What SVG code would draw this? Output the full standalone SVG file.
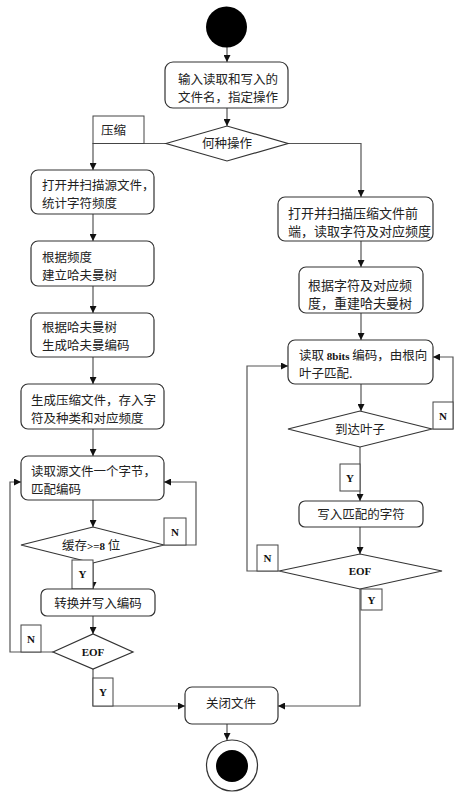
<svg xmlns="http://www.w3.org/2000/svg" width="474" height="795" viewBox="0 0 474 795">
<defs>
<marker id="arr" viewBox="0 0 10 10" refX="10" refY="5" markerWidth="7" markerHeight="7" markerUnits="userSpaceOnUse" orient="auto">
<path d="M0,0 L10,5 L0,10 Z" fill="#111"/>
</marker>
<style>
.box{fill:#fff;stroke:#333;stroke-width:1.2}
.dia{fill:#fff;stroke:#333;stroke-width:1.2}
.lbl{fill:#fff;stroke:#444;stroke-width:1}
.ln{fill:none;stroke:#555;stroke-width:1.2}
.t{font-family:"Noto Sans CJK SC","Noto Sans",sans-serif;font-size:12.5px;fill:#222}
.tr{font-family:"Noto Sans CJK SC","Noto Sans",sans-serif;font-size:13px;fill:#222}
.b{font-family:"Liberation Serif",serif;font-weight:bold;font-size:11px;fill:#111}
.m{text-anchor:middle}
</style>
</defs>
<g id="connectors">
<line class="ln" x1="227" y1="47" x2="227" y2="62" marker-end="url(#arr)"/>
<line class="ln" x1="227" y1="108" x2="227" y2="126" marker-end="url(#arr)"/>
<polyline class="ln" points="166,143.5 93,143.5 93,170" marker-end="url(#arr)"/>
<polyline class="ln" points="288,143.5 361,143.5 361,197" marker-end="url(#arr)"/>
<line class="ln" x1="93" y1="214" x2="93" y2="241" marker-end="url(#arr)"/>
<line class="ln" x1="93" y1="286" x2="93" y2="313" marker-end="url(#arr)"/>
<line class="ln" x1="93" y1="357" x2="93" y2="384" marker-end="url(#arr)"/>
<line class="ln" x1="93" y1="429" x2="93" y2="456" marker-end="url(#arr)"/>
<line class="ln" x1="93" y1="500" x2="93" y2="527" marker-end="url(#arr)"/>
<polyline class="ln" points="164,545 196,545 196,482 164,482" marker-end="url(#arr)"/>
<line class="ln" x1="93" y1="563" x2="93" y2="589" marker-end="url(#arr)"/>
<line class="ln" x1="93" y1="616" x2="93" y2="634" marker-end="url(#arr)"/>
<polyline class="ln" points="53,652 10,652 10,482 21,482" marker-end="url(#arr)"/>
<polyline class="ln" points="93,669 93,706 185,706" marker-end="url(#arr)"/>
<line class="ln" x1="361" y1="241" x2="361" y2="267" marker-end="url(#arr)"/>
<line class="ln" x1="361" y1="313" x2="361" y2="340" marker-end="url(#arr)"/>
<line class="ln" x1="361" y1="384" x2="361" y2="411" marker-end="url(#arr)"/>
<polyline class="ln" points="432,429 453,429 453,357 433,357" marker-end="url(#arr)"/>
<line class="ln" x1="360" y1="447" x2="360" y2="501" marker-end="url(#arr)"/>
<line class="ln" x1="360" y1="527" x2="360" y2="554" marker-end="url(#arr)"/>
<polyline class="ln" points="279,571 247,571 247,366 288,366" marker-end="url(#arr)"/>
<polyline class="ln" points="360,589 360,706 278,706" marker-end="url(#arr)"/>
<line class="ln" x1="227" y1="724" x2="227" y2="740" marker-end="url(#arr)"/>
</g>
<g id="start"><circle cx="226.5" cy="27" r="20.5" fill="#000"/></g>
<g id="input">
<rect class="box" x="165" y="62" width="123" height="46" rx="8"/>
<text class="t" x="178" y="83.5">输入读取和写入的</text>
<text class="t" x="178" y="101.5">文件名，指定操作</text>
</g>
<g id="op">
<polygon class="dia" points="166,143.5 227,126 288,143.5 227,161"/>
<text class="t m" x="227" y="148">何种操作</text>
</g>
<g id="lbl-compress">
<rect class="lbl" x="93" y="116" width="51" height="27.5"/>
<text class="t" x="101" y="134.5">压缩</text>
</g>
<g id="scan-src">
<rect class="box" x="31" y="170" width="123" height="44" rx="7"/>
<text class="t" x="42" y="189.5">打开并扫描源文件，</text>
<text class="t" x="42" y="207.5">统计字符频度</text>
</g>
<g id="build-tree">
<rect class="box" x="31" y="241" width="123" height="45" rx="7"/>
<text class="t" x="42" y="262">根据频度</text>
<text class="t" x="42" y="280">建立哈夫曼树</text>
</g>
<g id="gen-code">
<rect class="box" x="31" y="313" width="123" height="44" rx="7"/>
<text class="t" x="42" y="331.5">根据哈夫曼树</text>
<text class="t" x="42" y="349.5">生成哈夫曼编码</text>
</g>
<g id="gen-file">
<rect class="box" x="21" y="384" width="143" height="45" rx="7"/>
<text class="t" x="31" y="404.5">生成压缩文件，存入字</text>
<text class="t" x="31" y="422.5">符及种类和对应频度</text>
</g>
<g id="read-byte">
<rect class="box" x="21" y="456" width="143" height="44" rx="7"/>
<text class="t" x="31" y="475.5">读取源文件一个字节，</text>
<text class="t" x="31" y="493.5">匹配编码</text>
</g>
<g id="buf">
<polygon class="dia" points="21,545 93,527 164,545 93,563"/>
<text class="t" x="62" y="549.5">缓存<tspan class="b" font-size="12px">&gt;=8</tspan> 位</text>
</g>
<g id="lbl-buf-n"><rect class="lbl" x="164" y="518" width="22" height="27"/><text class="b m" x="175" y="535.5">N</text></g>
<g id="lbl-buf-y"><rect class="lbl" x="72" y="560" width="21" height="29"/><text class="b m" x="82.5" y="578">Y</text></g>
<g id="convert">
<rect class="box" x="41" y="589" width="114" height="27" rx="6"/>
<text class="t m" x="98" y="607.5">转换并写入编码</text>
</g>
<g id="eof1">
<polygon class="dia" points="53,652 93,634 133,652 93,669"/>
<text class="b m" x="93" y="656">EOF</text>
</g>
<g id="lbl-eof1-n"><rect class="lbl" x="21" y="625" width="20" height="27"/><text class="b m" x="31" y="642.5">N</text></g>
<g id="lbl-eof1-y"><rect class="lbl" x="93" y="678" width="20" height="28"/><text class="b m" x="103" y="696">Y</text></g>
<g id="scan-cmp">
<rect class="box" x="278" y="197" width="155" height="44" rx="7"/>
<text class="tr" x="288" y="217.5">打开并扫描压缩文件前</text>
<text class="tr" x="288" y="235.5">端，读取字符及对应频度</text>
</g>
<g id="rebuild">
<rect class="box" x="299" y="267" width="124" height="46" rx="7"/>
<text class="tr" x="308" y="289.5">根据字符及对应频</text>
<text class="tr" x="308" y="307.5">度，重建哈夫曼树</text>
</g>
<g id="read-bits">
<rect class="box" x="288" y="340" width="145" height="44" rx="7"/>
<text class="t" x="299" y="359.5">读取 <tspan class="b">8bits</tspan> 编码，由根向</text>
<text class="t" x="299" y="377.5">叶子匹配.</text>
</g>
<g id="leaf">
<polygon class="dia" points="288,429 360,411 432,429 360,447"/>
<text class="t m" x="360" y="433.5">到达叶子</text>
</g>
<g id="lbl-leaf-n"><rect class="lbl" x="433" y="402" width="20" height="27"/><text class="b m" x="443" y="419.5">N</text></g>
<g id="lbl-leaf-y"><rect class="lbl" x="340" y="464" width="20" height="27"/><text class="b m" x="350" y="481.5">Y</text></g>
<g id="write-char">
<rect class="box" x="299" y="501" width="124" height="26" rx="6"/>
<text class="t m" x="361" y="518.5">写入匹配的字符</text>
</g>
<g id="eof2">
<polygon class="dia" points="279,571 360,554 442,571 360,589"/>
<text class="b m" x="360" y="575">EOF</text>
</g>
<g id="lbl-eof2-n"><rect class="lbl" x="257" y="545" width="21" height="26"/><text class="b m" x="267.5" y="562">N</text></g>
<g id="lbl-eof2-y"><rect class="lbl" x="361" y="589" width="21" height="21"/><text class="b m" x="371.5" y="603.5">Y</text></g>
<g id="close">
<rect class="box" x="185" y="687" width="93" height="37" rx="7"/>
<text class="t m" x="231" y="708">关闭文件</text>
</g>
<g id="end">
<circle cx="232" cy="765.5" r="25.5" fill="#fff" stroke="#333" stroke-width="1.2"/>
<circle cx="232" cy="766" r="16" fill="#000"/>
</g>
</svg>
